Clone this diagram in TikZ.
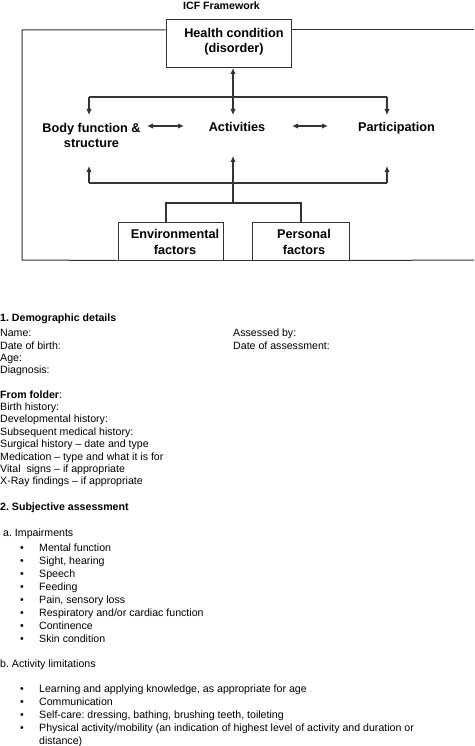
\documentclass[tikz,border=0pt]{standalone}
\usepackage{fontspec}
\setmainfont{Liberation Sans}
\usetikzlibrary{arrows.meta}
\definecolor{lin}{HTML}{333333}
\frenchspacing
\begin{document}
\begin{tikzpicture}[x=1pt,y=-1pt,
  dia/.style={font=\fontsize{12.7}{15.5}\selectfont\bfseries, align=center, inner sep=0pt, anchor=base},
  boxn/.style={draw=lin, line width=1pt, inner sep=0pt},
  ln/.style={draw=lin, line width=1.2pt},
  arr/.style={ln, -{Latex[length=6pt,width=5.5pt]}},
  arrb/.style={ln, {Latex[length=6pt,width=5.5pt]}-{Latex[length=6pt,width=5.5pt]}},
  txt/.style={font=\fontsize{10.6}{12.4}\selectfont, anchor=base west, inner sep=0pt},
  hd/.style={txt, font=\fontsize{10.6}{12.4}\selectfont\bfseries},
  bul/.style={font=\fontsize{10.6}{12.4}\selectfont, anchor=base, inner sep=0pt}]
\useasboundingbox (0,0) rectangle (474,746);

% ---------- diagram ----------
\node[font=\fontsize{10.6}{12}\selectfont\bfseries, anchor=base, inner sep=0pt] (title) at (221.5,10) {ICF Framework};

\node[boxn, minimum width=125pt, minimum height=48pt] (hc) at (228.5,44) {};
\node[dia] (hct) at (234,53) {Health condition\\(disorder)};

\node[boxn, minimum width=105pt, minimum height=38pt] (env) at (170.5,241) {};
\node[dia] (envt) at (175,254) {Environmental\\factors};
\node[boxn, minimum width=97pt, minimum height=38pt] (per) at (300.5,241) {};
\node[dia] (pert) at (304,254) {Personal\\factors};

\node[dia] (bf) at (91.5,148) {Body function \&\\structure};
\node[dia] (act) at (237,132) {Activities};
\node[dia] (par) at (396.5,132) {Participation};

% frame
\coordinate (fTL) at (22,30);
\coordinate (fTR) at (474,30);
\coordinate (fBL) at (22,260);
\coordinate (fBR) at (474,260);
\draw[boxn] (hc.west |- fTL) -- (fTL) -- (fBL) -- (env.south west);
\draw[boxn] (hc.east |- fTR) -- (fTR);
\draw[boxn] (env.south east) -- (per.south west);
\draw[boxn] (per.south east) -- (fBR);

% upper arrows
\coordinate (hcB) at (233,68);
\coordinate (actTop) at (233,115);
\coordinate (lt1) at (89,97);
\coordinate (rt1) at (387,97);
\coordinate (bfTop) at (89,115);
\coordinate (parTop) at (387,115);
\draw[arrb] (hcB) -- (actTop);
\draw[ln] (lt1) -- (rt1);
\draw[arr] (lt1) -- (bfTop);
\draw[arr] (rt1) -- (parTop);

% horizontal double arrows
\coordinate (h1a) at (147,126);
\coordinate (h1b) at (184,126);
\coordinate (h2a) at (292,126);
\coordinate (h2b) at (328,126);
\draw[arrb] (h1a) -- (h1b);
\draw[arrb] (h2a) -- (h2b);

% lower arrows
\coordinate (lb) at (89,183);
\coordinate (rb) at (387,183);
\coordinate (bfBot) at (89,166);
\coordinate (parBot) at (387,166);
\coordinate (cb) at (233,203);
\coordinate (actBot) at (233,156);
\coordinate (el) at (166,203);
\coordinate (pr) at (301,203);
\draw[ln] (lb) -- (rb);
\draw[arr] (lb) -- (bfBot);
\draw[arr] (rb) -- (parBot);
\draw[arr] (cb) -- (actBot);
\draw[ln] (env.north -| el) -- (el) -- (pr) -- (per.north -| pr);

% ---------- text ----------
\node[hd] (s1) at (0,321) {1. Demographic details};
\node[txt] (n1) at (0,336.7) {Name:};
\node[txt] (n2) at (0,349) {Date of birth:};
\node[txt] (n3) at (0,361.3) {Age:};
\node[txt] (n4) at (0,373.6) {Diagnosis:};
\node[txt] (a1) at (233,336.7) {Assessed by:};
\node[txt] (a2) at (233,349) {Date of assessment:};

\node[txt] (ff) at (0,398) {\textbf{From folder}:};
\node[txt] (f1) at (0,410.4) {Birth history:};
\node[txt] (f2) at (0,422.8) {Developmental history:};
\node[txt] (f3) at (0,435.2) {Subsequent medical history:};
\node[txt] (f4) at (0,447.6) {Surgical history -- date and type};
\node[txt] (f5) at (0,460) {Medication -- type and what it is for};
\node[txt] (f6) at (0,472.4) {Vital\ \ signs -- if appropriate};
\node[txt] (f7) at (0,484.8) {X-Ray findings -- if appropriate};

\node[hd] (s2) at (0,510) {2. Subjective assessment};
\node[txt] (ia) at (3,536) {a. Impairments};
\foreach \t [count=\i] in {Mental function, {Sight, hearing}, Speech, Feeding, {Pain, sensory loss}, Respiratory and/or cardiac function, Continence, Skin condition}{
  \node[bul] (ib\i) at (22,538+13*\i) {•};
  \node[txt] (it\i) at (39,538+13*\i) {\t};
}
\node[txt] (lb0) at (0,667) {b. Activity limitations};
\foreach \t [count=\i] in {{Learning and applying knowledge, as appropriate for age}, Communication, {Self-care: dressing, bathing, brushing teeth, toileting}, Physical activity/mobility (an indication of highest level of activity and duration or}{
  \node[bul] (lbb\i) at (22,679+13*\i) {•};
  \node[txt] (lt\i) at (39,679+13*\i) {\t};
}
\node[txt] (lt5) at (39,744) {distance)};
\end{tikzpicture}
\end{document}
